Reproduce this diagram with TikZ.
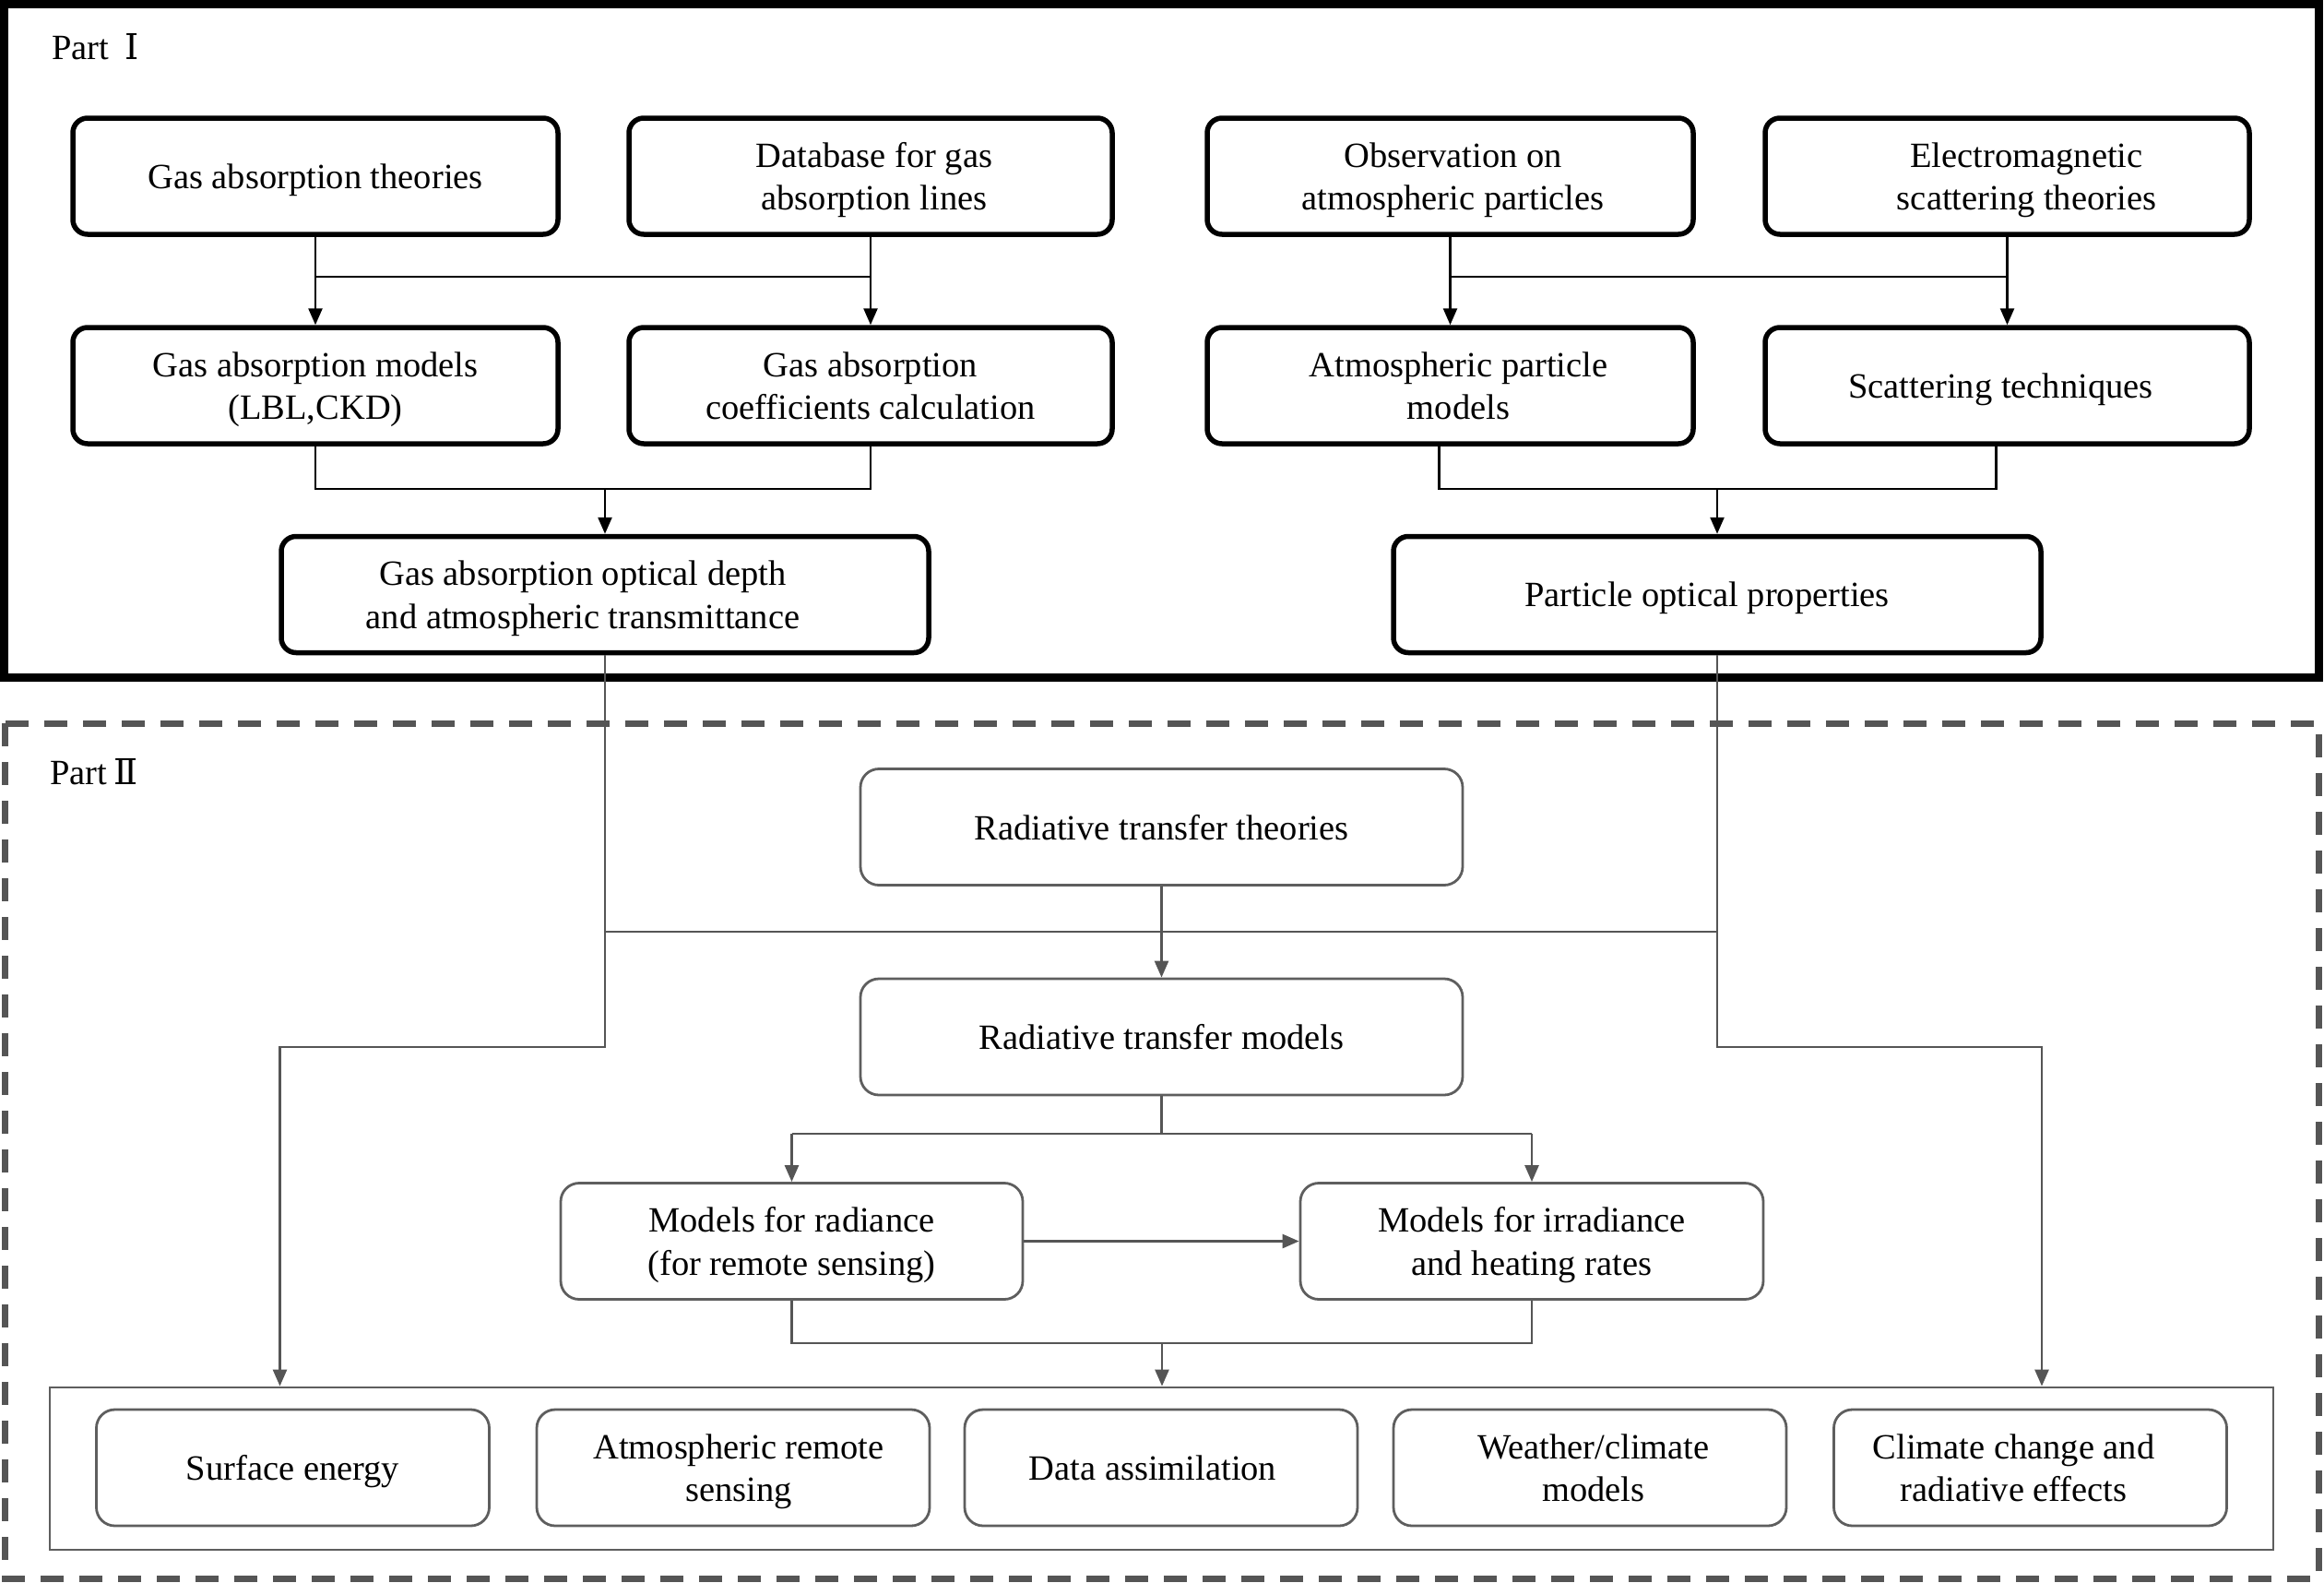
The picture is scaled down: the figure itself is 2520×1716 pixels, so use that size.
\documentclass[tikz,border=0pt]{standalone}
\usepackage{fontspec}
\setmainfont{Liberation Serif}
\newfontfamily\numfont{DejaVu Serif}
\usetikzlibrary{arrows.meta}
\definecolor{lgray}{HTML}{555555}
\definecolor{bgray}{HTML}{5E5E5E}
\newcommand{\hs}[1]{\hspace*{#1}}
\begin{document}
\begin{tikzpicture}[x=1pt,y=-1pt,
  txt/.style={font=\fontsize{38.5pt}{46.5pt}\selectfont, align=center, inner sep=0pt, text depth=0pt},
  boxA/.style={txt, draw=black, line width=5.5pt, rounded corners=16pt, minimum height=126pt},
  boxB/.style={txt, draw=bgray, line width=2.8pt, rounded corners=20pt, minimum height=126pt},
  conA/.style={draw=black, line width=2.5pt},
  conB/.style={draw=lgray, line width=2.6pt},
  tipA/.style={-{Triangle[length=18pt,width=15pt]}},
  plabel/.style={font=\fontsize{38.5pt}{46.5pt}\selectfont, anchor=west, inner sep=0pt}
]
\useasboundingbox (0,0) rectangle (2520,1716);

% frames
\draw[line width=9pt, black] (4,4) rectangle (2514,734);
\draw[line width=7pt, lgray, dash pattern=on 25pt off 17pt] (5,784) rectangle (2514,1711);

\node[plabel] (p1) at (56,51) {Part\hspace{0.45em}{\numfont Ⅰ}};
\node[plabel] (p2) at (54,837) {Part\hspace{0.2em}{\numfont Ⅱ}};

% Part I row 1
\node[boxA, minimum width=526pt] (gat) at (342,191) {Gas absorption theories};
\node[boxA, minimum width=524pt] (db)  at (944,191) {\hs{8pt}Database for gas\\\hs{8pt}absorption lines};
\node[boxA, minimum width=527pt] (obs) at (1572.5,191) {\hs{6pt}Observation on\\\hs{6pt}atmospheric particles};
\node[boxA, minimum width=525pt] (em)  at (2176.5,191) {\hs{42pt}Electromagnetic\\\hs{42pt}scattering theories};
% row 2
\node[boxA, minimum width=526pt] (gam) at (342,418) {Gas absorption models\\(LBL,CKD)};
\node[boxA, minimum width=524pt] (gac) at (944,418) {Gas absorption\\coefficients calculation};
\node[boxA, minimum width=527pt] (apm) at (1572.5,418) {\hs{18pt}Atmospheric particle\\\hs{18pt}models};
\node[boxA, minimum width=525pt] (sct) at (2176.5,418) {\hs{-14pt}Scattering techniques};
% row 3
\node[boxA, minimum width=702pt] (god) at (656,644.5) {\hs{-48pt}Gas absorption optical depth\\\hs{-48pt}and atmospheric transmittance};
\node[boxA, minimum width=702pt] (pop) at (1862,644.5) {\hs{-22pt}Particle optical properties};

% Part I connectors
\coordinate (ja) at (0,300);
\coordinate (jb) at (0,530);
\draw[conA, tipA] (gat.south) -- (gam.north);
\draw[conA, tipA] (db.south) -- (gac.north);
\draw[conA] (gat.south |- ja) -- (db.south |- ja);
\draw[conA, tipA] (obs.south) -- (apm.north);
\draw[conA, tipA] (em.south) -- (sct.north);
\draw[conA] (obs.south |- ja) -- (em.south |- ja);
\draw[conA] (gam.south) -- (gam.south |- jb) -- (gac.south |- jb) -- (gac.south);
\draw[conA, tipA] (god.north |- jb) -- (god.north);
\draw[conA] ([xshift=-12pt]apm.south) -- ([xshift=-12pt]apm.south |- jb) -- ([xshift=-12pt]sct.south |- jb) -- ([xshift=-12pt]sct.south);
\draw[conA, tipA] (pop.north |- jb) -- (pop.north);

% Part II nodes
\node[boxB, minimum width=653pt] (rtt) at (1259.5,896.5) {Radiative transfer theories};
\node[boxB, minimum width=653pt] (rtm) at (1259.5,1124) {Radiative transfer models};
\node[boxB, minimum width=501pt] (rad) at (858.5,1345.5) {Models for radiance\\(for remote sensing)};
\node[boxB, minimum width=502pt] (irr) at (1661,1345.5) {Models for irradiance\\and heating rates};

\node[draw=bgray, line width=2.8pt, minimum width=2411pt, minimum height=176pt, inner sep=0pt] (cont) at (1259.5,1592) {};
\node[boxB, minimum width=426pt] (se)  at (317.5,1591) {Surface energy};
\node[boxB, minimum width=426pt] (ars) at (795,1591) {\hs{12pt}Atmospheric remote\\\hs{12pt}sensing};
\node[boxB, minimum width=426pt] (da)  at (1259,1591) {\hs{-18pt}Data assimilation};
\node[boxB, minimum width=426pt] (wcm) at (1724,1591) {\hs{8pt}Weather/climate\\\hs{8pt}models};
\node[boxB, minimum width=426pt] (cc)  at (2201.5,1591) {\hs{-36pt}Climate change and\\\hs{-36pt}radiative effects};

% Part II connectors
\coordinate (hj) at (0,1010);
\coordinate (ljog) at (303.5,1135);
\coordinate (rjog) at (2214,1135);
\coordinate (sj) at (0,1229);
\coordinate (bj) at (1260,1456);
\draw[conB, tipA] (god.south) |- (ljog) -- (ljog |- cont.north);
\draw[conB, tipA] (pop.south) |- (rjog) -- (rjog |- cont.north);
\draw[conB] (god.south |- hj) -- (pop.south |- hj);
\draw[conB, tipA] (rtt.south) -- (rtm.north);
\draw[conB] (rtm.south) -- (rtm.south |- sj);
\draw[conB] (rad.north |- sj) -- (irr.north |- sj);
\draw[conB, tipA] (rad.north |- sj) -- (rad.north);
\draw[conB, tipA] (irr.north |- sj) -- (irr.north);
\draw[conB, tipA] (rad.east) -- (irr.west);
\draw[conB] (rad.south) |- (bj) -| (irr.south);
\draw[conB, tipA] (bj) -- (bj |- cont.north);
\end{tikzpicture}
\end{document}
